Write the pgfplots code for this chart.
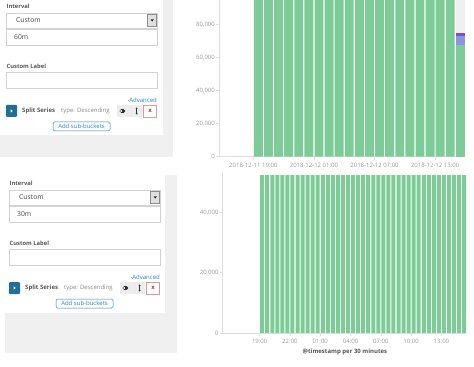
\documentclass[border=0pt]{standalone}
\usepackage{pgfplots}
\pgfplotsset{compat=1.18}
\usepackage{fontspec}
\setmainfont{Open Sans}
\definecolor{barg}{HTML}{7DCB96}
\definecolor{lav}{HTML}{8C94E4}
\definecolor{pur}{HTML}{7A52C7}
\definecolor{hov}{HTML}{F0F0F0}
\definecolor{axl}{HTML}{DDDDDD}
\definecolor{tlc}{HTML}{999999}
\definecolor{pgrey}{HTML}{F0F0F0}
\definecolor{inb}{HTML}{D2D2D2}
\definecolor{lbl}{HTML}{555555}
\definecolor{txt}{HTML}{444444}
\definecolor{typ}{HTML}{888888}
\definecolor{lnk}{HTML}{2B86B0}
\definecolor{btnblue}{HTML}{1F6F9C}
\definecolor{redb}{HTML}{D89A9A}
\definecolor{redx}{HTML}{C0392B}
\newcommand{\fs}[1]{\fontsize{#1bp}{#1bp}\selectfont}
\newcommand{\panel}[1]{%
 \node[anchor=west,inner sep=0pt,text=lbl,font=\fs{5.8}\bfseries] at (0.5,361) {Interval};
 \draw[inb,fill=white,line width=0.5bp] (0,339) rectangle (151,354);
 \draw[draw=black!45,fill=black!12,line width=0.5bp] (141.7,340.5) rectangle (150.7,352.5);
 \fill[black!85] (144.5,347.6) -- (147.9,347.6) -- (146.2,345.4) -- cycle;
 \node[anchor=west,inner sep=0pt,text=txt,font=\fs{6.8}] at (10,346.5) {Custom};
 \draw[inb,fill=white,line width=0.5bp] (0,322) rectangle (151,338);
 \node[anchor=west,inner sep=0pt,text=txt,font=\fs{6.8}] at (8,330) {#1};
 \node[anchor=west,inner sep=0pt,text=lbl,font=\fs{5.8}\bfseries] at (0.5,301) {Custom Label};
 \draw[inb,fill=white,line width=0.5bp] (0,279) rectangle (151,295);
 \node[anchor=east,inner sep=0pt,text=lnk,font=\fs{6}] at (151,267) {{\fs{4}•}Advanced};
 \fill[btnblue,rounded corners=1bp] (0,250) rectangle (11,262);
 \fill[white] (4.6,257.6) -- (6.8,256) -- (4.6,254.4) -- cycle;
 \node[anchor=west,inner sep=0pt,text=lbl,font=\fs{6}\bfseries] at (16,256) {Split Series};
 \node[anchor=west,inner sep=0pt,text=typ,font=\fs{6}] at (55,256) {type: Descending};
 \fill[black!7] (110.7,250) rectangle (135.7,262);
 \fill[black!85,rounded corners=1.6bp] (113.5,254.2) rectangle (119.1,257.8);
 \fill[white] (115.3,256) circle (1.1bp);
 \draw[black!80,line width=0.6bp] (130.7,253.6) -- (130.7,258.4);
 \fill[black!80] (129.7,258.2) -- (131.7,258.2) -- (130.7,259.6) -- cycle;
 \fill[black!80] (129.7,253.8) -- (131.7,253.8) -- (130.7,252.4) -- cycle;
 \draw[redb,fill=white,line width=0.6bp] (137.3,250) rectangle (150.7,262);
 \node[text=redx,font=\fs{6}\bfseries,inner sep=0pt] at (144,256) {x};
 \draw[lnk,line width=0.5bp,fill=white,rounded corners=1.5bp] (47,236) rectangle (104,245);
 \node[text=lnk,font=\fs{6},inner sep=0pt] at (75.5,240.5) {Add sub-buckets};
}
\pgfplotsset{kib/.style={
  scale only axis, anchor=south west,
  axis x line*=bottom, axis y line*=left,
  axis line style={draw=axl,line width=0.6bp,-},
  tick align=outside, major tick length=3bp,
  tick style={draw=axl,line width=0.6bp},
  scaled y ticks=false,
  ymin=0,
  xticklabel style={font=\fs{6},text=tlc,inner sep=0pt,yshift=-2.5bp},
  yticklabel style={font=\fs{6},text=tlc,inner sep=0pt,xshift=-1bp,
     /pgf/number format/1000 sep={,},/pgf/number format/assume math mode=true},
}}
\begin{document}
\begin{tikzpicture}
\path[use as bounding box,fill=white] (0,0) rectangle (474bp,367bp);
\begin{scope}[x=1bp,y=1bp]
 \fill[pgrey] (0,210) rectangle (173,367);
 \fill[white] (0,232) rectangle (163,367);
 \fill[pgrey] (5,14) rectangle (177,192);
 \fill[white] (5,54) rectangle (165,192);
\end{scope}
\begin{scope}[x=1bp,y=1bp,shift={(6bp,0bp)}]
 \panel{60m}
\end{scope}
\begin{scope}[x=1bp,y=1bp,shift={(9bp,-177bp)}]
 \panel{30m}
\end{scope}
% top chart (x in hours after 2018-12-11 19:00)
\begin{axis}[kib, at={(219bp,210.3bp)}, width=246.4bp, height=156.7bp,
  xmin=-3.4, xmax=21, ymax=94680,
  xtick={0,6,12,18},
  xticklabels={2018-12-11 19:00,2018-12-12 01:00,2018-12-12 07:00,2018-12-12 13:00},
  xticklabel style={yshift=-1bp},
  ytick={0,20000,40000,60000,80000}]
\addplot[ybar,bar shift=0pt,bar width=8.9bp,fill=barg,draw=none] coordinates {
(0.5,104800) (1.5,104800) (2.5,104800) (3.5,104800) (4.5,104800)
(5.5,104800) (6.5,104800) (7.5,104800) (8.5,104800) (9.5,104800)
(10.5,104800) (11.5,104800) (12.5,104800) (13.5,104800) (14.5,104800)
(15.5,104800) (16.5,104800) (17.5,104800) (18.5,104800) (19.5,104800)};
\addplot[ybar,bar shift=0pt,bar width=8.9bp,fill=hov,draw=none] coordinates {(20.5,120000)};
\addplot[ybar,bar shift=0pt,bar width=8.9bp,fill=pur,draw=none] coordinates {(20.5,74500)};
\addplot[ybar,bar shift=0pt,bar width=8.9bp,fill=lav,draw=none] coordinates {(20.5,72700)};
\addplot[ybar,bar shift=0pt,bar width=8.9bp,fill=barg,draw=none] coordinates {(20.5,67270)};
\end{axis}
% bottom chart
\begin{axis}[kib, at={(222.7bp,34bp)}, width=244.5bp, height=159.8bp,
  xmin=-3.66, xmax=20.55, ymax=53000,
  xtick={0,3,6,9,12,15,18},
  xticklabels={19:00,22:00,01:00,04:00,07:00,10:00,13:00},
  ytick={0,20000,40000},
  xlabel={@timestamp per 30 minutes},
  xlabel style={font=\fs{6}\bfseries,text=lbl,inner sep=0pt,
     at={(axis description cs:0.5,0)},anchor=center,yshift=-18.7bp}]
\addplot[ybar,bar shift=0pt,bar width=4bp,fill=barg,draw=none] coordinates {
(0.25,52400) (0.75,52400) (1.25,52400) (1.75,52400) (2.25,52400) (2.75,52400)
(3.25,52400) (3.75,52400) (4.25,52400) (4.75,52400) (5.25,52400) (5.75,52400)
(6.25,52400) (6.75,52400) (7.25,52400) (7.75,52400) (8.25,52400) (8.75,52400)
(9.25,52400) (9.75,52400) (10.25,52400) (10.75,52400) (11.25,52400) (11.75,52400)
(12.25,52400) (12.75,52400) (13.25,52400) (13.75,52400) (14.25,52400) (14.75,52400)
(15.25,52400) (15.75,52400) (16.25,52400) (16.75,52400) (17.25,52400) (17.75,52400)
(18.25,52400) (18.75,52400) (19.25,52400) (19.75,52400) (20.25,52400)};
\end{axis}
\end{tikzpicture}
\end{document}
